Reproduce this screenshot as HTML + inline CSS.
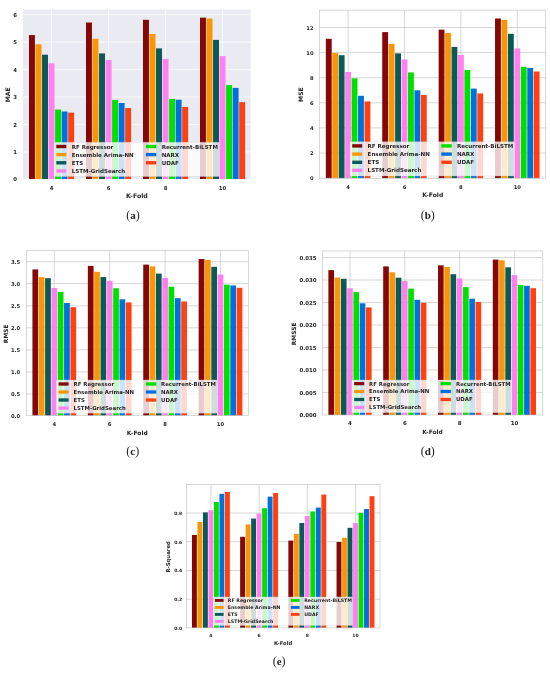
<!DOCTYPE html>
<html lang="en"><head><meta charset="utf-8"><title>Figure</title>
<style>html,body{margin:0;padding:0;background:#fff}svg{display:block;filter:blur(0.35px)}.t{font-family:"DejaVu Sans","Liberation Sans",sans-serif;font-weight:bold;fill:#262626;text-rendering:geometricPrecision}.c{font-family:"Liberation Serif","DejaVu Serif",serif;fill:#222}</style></head><body>
<svg width="550" height="673" viewBox="0 0 550 673">
<rect width="550" height="673" fill="#fff"/>
<g id="chart-a">
<rect x="22.9" y="9.5" width="227.70" height="169.50" fill="#EAEAF2"/>
<line x1="22.9" x2="250.6" y1="151.9" y2="151.9" stroke="#fff" stroke-width="0.7"/>
<line x1="22.9" x2="250.6" y1="124.4" y2="124.4" stroke="#fff" stroke-width="0.7"/>
<line x1="22.9" x2="250.6" y1="97.0" y2="97.0" stroke="#fff" stroke-width="0.7"/>
<line x1="22.9" x2="250.6" y1="69.6" y2="69.6" stroke="#fff" stroke-width="0.7"/>
<line x1="22.9" x2="250.6" y1="42.1" y2="42.1" stroke="#fff" stroke-width="0.7"/>
<line x1="22.9" x2="250.6" y1="14.7" y2="14.7" stroke="#fff" stroke-width="0.7"/>
<line x1="51.55" x2="51.55" y1="9.5" y2="179.0" stroke="#fff" stroke-width="0.7"/>
<line x1="108.55" x2="108.55" y1="9.5" y2="179.0" stroke="#fff" stroke-width="0.7"/>
<line x1="165.55" x2="165.55" y1="9.5" y2="179.0" stroke="#fff" stroke-width="0.7"/>
<line x1="222.55" x2="222.55" y1="9.5" y2="179.0" stroke="#fff" stroke-width="0.7"/>
<rect x="28.99" y="35.10" width="5.93" height="143.90" fill="#860707"/>
<rect x="35.52" y="44.30" width="5.93" height="134.70" fill="#FA9606"/>
<rect x="42.05" y="54.70" width="5.93" height="124.30" fill="#0B5A58"/>
<rect x="48.58" y="63.30" width="5.93" height="115.70" fill="#FF80EE"/>
<rect x="55.11" y="109.50" width="5.93" height="69.50" fill="#00E000"/>
<rect x="61.64" y="111.50" width="5.93" height="67.50" fill="#0070E0"/>
<rect x="68.17" y="112.60" width="5.93" height="66.40" fill="#FF4010"/>
<rect x="85.99" y="22.50" width="5.93" height="156.50" fill="#860707"/>
<rect x="92.52" y="38.80" width="5.93" height="140.20" fill="#FA9606"/>
<rect x="99.05" y="53.40" width="5.93" height="125.60" fill="#0B5A58"/>
<rect x="105.58" y="60.00" width="5.93" height="119.00" fill="#FF80EE"/>
<rect x="112.11" y="99.90" width="5.93" height="79.10" fill="#00E000"/>
<rect x="118.64" y="103.00" width="5.93" height="76.00" fill="#0070E0"/>
<rect x="125.17" y="108.00" width="5.93" height="71.00" fill="#FF4010"/>
<rect x="143.00" y="19.80" width="5.93" height="159.20" fill="#860707"/>
<rect x="149.53" y="34.00" width="5.93" height="145.00" fill="#FA9606"/>
<rect x="156.06" y="48.40" width="5.93" height="130.60" fill="#0B5A58"/>
<rect x="162.59" y="59.10" width="5.93" height="119.90" fill="#FF80EE"/>
<rect x="169.12" y="99.00" width="5.93" height="80.00" fill="#00E000"/>
<rect x="175.65" y="99.70" width="5.93" height="79.30" fill="#0070E0"/>
<rect x="182.18" y="106.90" width="5.93" height="72.10" fill="#FF4010"/>
<rect x="200.00" y="17.65" width="5.93" height="161.35" fill="#860707"/>
<rect x="206.53" y="18.50" width="5.93" height="160.50" fill="#FA9606"/>
<rect x="213.06" y="39.90" width="5.93" height="139.10" fill="#0B5A58"/>
<rect x="219.59" y="56.10" width="5.93" height="122.90" fill="#FF80EE"/>
<rect x="226.12" y="85.10" width="5.93" height="93.90" fill="#00E000"/>
<rect x="232.65" y="87.90" width="5.93" height="91.10" fill="#0070E0"/>
<rect x="239.18" y="102.10" width="5.93" height="76.90" fill="#FF4010"/>
<text class="t" x="17.0" y="181.45" font-size="5.35" text-anchor="end">0</text>
<text class="t" x="17.0" y="154.05" font-size="5.35" text-anchor="end">1</text>
<text class="t" x="17.0" y="126.55" font-size="5.35" text-anchor="end">2</text>
<text class="t" x="17.0" y="99.15" font-size="5.35" text-anchor="end">3</text>
<text class="t" x="17.0" y="71.75" font-size="5.35" text-anchor="end">4</text>
<text class="t" x="17.0" y="44.25" font-size="5.35" text-anchor="end">5</text>
<text class="t" x="17.0" y="16.85" font-size="5.35" text-anchor="end">6</text>
<text class="t" x="51.55" y="189.6" font-size="5.35" text-anchor="middle">4</text>
<text class="t" x="108.55" y="189.6" font-size="5.35" text-anchor="middle">6</text>
<text class="t" x="165.55" y="189.6" font-size="5.35" text-anchor="middle">8</text>
<text class="t" x="222.55" y="189.6" font-size="5.35" text-anchor="middle">10</text>
<text class="t" x="136.9" y="198.1" font-size="6.24" text-anchor="middle">K-Fold</text>
<text class="t" transform="translate(9.63 94.8) rotate(-90)" font-size="6.1" text-anchor="middle">MAE</text>
<rect x="54.1" y="142.3" width="165.10" height="34.20" rx="1" fill="#fff" fill-opacity="0.8" stroke="#ccc" stroke-opacity="0.8" stroke-width="0.4"/>
<rect x="56.3" y="144.80" width="10.00" height="3.4" fill="#860707"/>
<text class="t" x="71.7" y="148.52" font-size="5.54">RF Regressor</text>
<rect x="56.3" y="152.90" width="10.00" height="3.4" fill="#FA9606"/>
<text class="t" x="71.7" y="156.62" font-size="5.54">Ensemble Arima-NN</text>
<rect x="56.3" y="161.10" width="10.00" height="3.4" fill="#0B5A58"/>
<text class="t" x="71.7" y="164.82" font-size="5.54">ETS</text>
<rect x="56.3" y="169.30" width="10.00" height="3.4" fill="#FF80EE"/>
<text class="t" x="71.7" y="173.02" font-size="5.54">LSTM-GridSearch</text>
<rect x="145.9" y="144.80" width="10.40" height="3.4" fill="#00E000"/>
<text class="t" x="161.7" y="148.52" font-size="5.54">Recurrent-BiLSTM</text>
<rect x="145.9" y="152.90" width="10.40" height="3.4" fill="#0070E0"/>
<text class="t" x="161.7" y="156.62" font-size="5.54">NARX</text>
<rect x="145.9" y="161.10" width="10.40" height="3.4" fill="#FF4010"/>
<text class="t" x="161.7" y="164.82" font-size="5.54">UDAF</text>
<text class="c" x="133.1" y="218.6" font-size="12" text-anchor="middle">(<tspan font-weight="bold" font-size="11">a</tspan>)</text>
</g>
<g id="chart-b">
<line x1="319.6" x2="545.5" y1="153.0" y2="153.0" stroke="#C6C6C6" stroke-width="0.7"/>
<line x1="319.6" x2="545.5" y1="127.9" y2="127.9" stroke="#C6C6C6" stroke-width="0.7"/>
<line x1="319.6" x2="545.5" y1="102.8" y2="102.8" stroke="#C6C6C6" stroke-width="0.7"/>
<line x1="319.6" x2="545.5" y1="77.7" y2="77.7" stroke="#C6C6C6" stroke-width="0.7"/>
<line x1="319.6" x2="545.5" y1="52.6" y2="52.6" stroke="#C6C6C6" stroke-width="0.7"/>
<line x1="319.6" x2="545.5" y1="27.5" y2="27.5" stroke="#C6C6C6" stroke-width="0.7"/>
<line x1="348.1" x2="348.1" y1="10.1" y2="178.2" stroke="#C6C6C6" stroke-width="0.7"/>
<line x1="404.5" x2="404.5" y1="10.1" y2="178.2" stroke="#C6C6C6" stroke-width="0.7"/>
<line x1="460.9" x2="460.9" y1="10.1" y2="178.2" stroke="#C6C6C6" stroke-width="0.7"/>
<line x1="517.3" x2="517.3" y1="10.1" y2="178.2" stroke="#C6C6C6" stroke-width="0.7"/>
<rect x="325.84" y="38.80" width="5.85" height="139.40" fill="#860707"/>
<rect x="332.29" y="53.00" width="5.85" height="125.20" fill="#FA9606"/>
<rect x="338.73" y="55.20" width="5.85" height="123.00" fill="#0B5A58"/>
<rect x="345.18" y="72.00" width="5.85" height="106.20" fill="#FF80EE"/>
<rect x="351.62" y="78.30" width="5.85" height="99.90" fill="#00E000"/>
<rect x="358.07" y="95.80" width="5.85" height="82.40" fill="#0070E0"/>
<rect x="364.52" y="101.40" width="5.85" height="76.80" fill="#FF4010"/>
<rect x="382.24" y="32.10" width="5.85" height="146.10" fill="#860707"/>
<rect x="388.69" y="43.80" width="5.85" height="134.40" fill="#FA9606"/>
<rect x="395.13" y="53.40" width="5.85" height="124.80" fill="#0B5A58"/>
<rect x="401.58" y="59.50" width="5.85" height="118.70" fill="#FF80EE"/>
<rect x="408.02" y="72.40" width="5.85" height="105.80" fill="#00E000"/>
<rect x="414.47" y="90.30" width="5.85" height="87.90" fill="#0070E0"/>
<rect x="420.92" y="94.90" width="5.85" height="83.30" fill="#FF4010"/>
<rect x="438.64" y="29.70" width="5.85" height="148.50" fill="#860707"/>
<rect x="445.09" y="32.90" width="5.85" height="145.30" fill="#FA9606"/>
<rect x="451.53" y="46.90" width="5.85" height="131.30" fill="#0B5A58"/>
<rect x="457.98" y="55.00" width="5.85" height="123.20" fill="#FF80EE"/>
<rect x="464.42" y="70.00" width="5.85" height="108.20" fill="#00E000"/>
<rect x="470.87" y="88.60" width="5.85" height="89.60" fill="#0070E0"/>
<rect x="477.31" y="93.40" width="5.85" height="84.80" fill="#FF4010"/>
<rect x="495.04" y="18.50" width="5.85" height="159.70" fill="#860707"/>
<rect x="501.49" y="19.80" width="5.85" height="158.40" fill="#FA9606"/>
<rect x="507.93" y="33.80" width="5.85" height="144.40" fill="#0B5A58"/>
<rect x="514.38" y="48.40" width="5.85" height="129.80" fill="#FF80EE"/>
<rect x="520.82" y="66.80" width="5.85" height="111.40" fill="#00E000"/>
<rect x="527.27" y="68.00" width="5.85" height="110.20" fill="#0070E0"/>
<rect x="533.71" y="71.50" width="5.85" height="106.70" fill="#FF4010"/>
<rect x="319.6" y="10.1" width="225.90" height="168.10" fill="none" stroke="#BEBEBE" stroke-width="0.6"/>
<text class="t" x="313.6" y="180.20" font-size="5.2" text-anchor="end">0</text>
<text class="t" x="313.6" y="155.10" font-size="5.2" text-anchor="end">2</text>
<text class="t" x="313.6" y="130.00" font-size="5.2" text-anchor="end">4</text>
<text class="t" x="313.6" y="104.90" font-size="5.2" text-anchor="end">6</text>
<text class="t" x="313.6" y="79.80" font-size="5.2" text-anchor="end">8</text>
<text class="t" x="313.6" y="54.70" font-size="5.2" text-anchor="end">10</text>
<text class="t" x="313.6" y="29.60" font-size="5.2" text-anchor="end">12</text>
<text class="t" x="348.1" y="188.7" font-size="5.2" text-anchor="middle">4</text>
<text class="t" x="404.5" y="188.7" font-size="5.2" text-anchor="middle">6</text>
<text class="t" x="460.9" y="188.7" font-size="5.2" text-anchor="middle">8</text>
<text class="t" x="517.3" y="188.7" font-size="5.2" text-anchor="middle">10</text>
<text class="t" x="432.7" y="196.7" font-size="6.04" text-anchor="middle">K-Fold</text>
<text class="t" transform="translate(302.72 94.6) rotate(-90)" font-size="6.09" text-anchor="middle">MSE</text>
<rect x="350.0" y="141.7" width="164.50" height="34.30" rx="1" fill="#fff" fill-opacity="0.8" stroke="#ccc" stroke-opacity="0.8" stroke-width="0.4"/>
<rect x="352.2" y="144.20" width="10.00" height="3.4" fill="#860707"/>
<text class="t" x="367.6" y="147.93" font-size="5.55">RF Regressor</text>
<rect x="352.2" y="152.40" width="10.00" height="3.4" fill="#FA9606"/>
<text class="t" x="367.6" y="156.13" font-size="5.55">Ensemble Arima-NN</text>
<rect x="352.2" y="160.60" width="10.00" height="3.4" fill="#0B5A58"/>
<text class="t" x="367.6" y="164.33" font-size="5.55">ETS</text>
<rect x="352.2" y="168.60" width="10.00" height="3.4" fill="#FF80EE"/>
<text class="t" x="367.6" y="172.33" font-size="5.55">LSTM-GridSearch</text>
<rect x="441.3" y="144.20" width="10.50" height="3.4" fill="#00E000"/>
<text class="t" x="456.9" y="147.93" font-size="5.55">Recurrent-BiLSTM</text>
<rect x="441.3" y="152.40" width="10.50" height="3.4" fill="#0070E0"/>
<text class="t" x="456.9" y="156.13" font-size="5.55">NARX</text>
<rect x="441.3" y="160.60" width="10.50" height="3.4" fill="#FF4010"/>
<text class="t" x="456.9" y="164.33" font-size="5.55">UDAF</text>
<text class="c" x="427.8" y="218.5" font-size="12" text-anchor="middle">(<tspan font-weight="bold" font-size="11">b</tspan>)</text>
</g>
<g id="chart-c">
<line x1="26.4" x2="248.5" y1="393.9" y2="393.9" stroke="#C6C6C6" stroke-width="0.7"/>
<line x1="26.4" x2="248.5" y1="371.9" y2="371.9" stroke="#C6C6C6" stroke-width="0.7"/>
<line x1="26.4" x2="248.5" y1="349.9" y2="349.9" stroke="#C6C6C6" stroke-width="0.7"/>
<line x1="26.4" x2="248.5" y1="327.8" y2="327.8" stroke="#C6C6C6" stroke-width="0.7"/>
<line x1="26.4" x2="248.5" y1="305.8" y2="305.8" stroke="#C6C6C6" stroke-width="0.7"/>
<line x1="26.4" x2="248.5" y1="283.6" y2="283.6" stroke="#C6C6C6" stroke-width="0.7"/>
<line x1="26.4" x2="248.5" y1="261.7" y2="261.7" stroke="#C6C6C6" stroke-width="0.7"/>
<line x1="54.3" x2="54.3" y1="250.7" y2="415.6" stroke="#C6C6C6" stroke-width="0.7"/>
<line x1="109.7" x2="109.7" y1="250.7" y2="415.6" stroke="#C6C6C6" stroke-width="0.7"/>
<line x1="165.1" x2="165.1" y1="250.7" y2="415.6" stroke="#C6C6C6" stroke-width="0.7"/>
<line x1="220.5" x2="220.5" y1="250.7" y2="415.6" stroke="#C6C6C6" stroke-width="0.7"/>
<rect x="32.44" y="269.40" width="5.73" height="146.20" fill="#860707"/>
<rect x="38.77" y="277.10" width="5.73" height="138.50" fill="#FA9606"/>
<rect x="45.10" y="278.20" width="5.73" height="137.40" fill="#0B5A58"/>
<rect x="51.43" y="288.00" width="5.73" height="127.60" fill="#FF80EE"/>
<rect x="57.76" y="291.90" width="5.73" height="123.70" fill="#00E000"/>
<rect x="64.09" y="303.00" width="5.73" height="112.60" fill="#0070E0"/>
<rect x="70.42" y="307.20" width="5.73" height="108.40" fill="#FF4010"/>
<rect x="87.84" y="265.90" width="5.73" height="149.70" fill="#860707"/>
<rect x="94.17" y="271.80" width="5.73" height="143.80" fill="#FA9606"/>
<rect x="100.50" y="277.10" width="5.73" height="138.50" fill="#0B5A58"/>
<rect x="106.83" y="280.80" width="5.73" height="134.80" fill="#FF80EE"/>
<rect x="113.17" y="288.20" width="5.73" height="127.40" fill="#00E000"/>
<rect x="119.49" y="299.30" width="5.73" height="116.30" fill="#0070E0"/>
<rect x="125.83" y="302.40" width="5.73" height="113.20" fill="#FF4010"/>
<rect x="143.25" y="264.60" width="5.73" height="151.00" fill="#860707"/>
<rect x="149.58" y="266.40" width="5.73" height="149.20" fill="#FA9606"/>
<rect x="155.91" y="273.60" width="5.73" height="142.00" fill="#0B5A58"/>
<rect x="162.24" y="277.90" width="5.73" height="137.70" fill="#FF80EE"/>
<rect x="168.56" y="286.70" width="5.73" height="128.90" fill="#00E000"/>
<rect x="174.90" y="298.20" width="5.73" height="117.40" fill="#0070E0"/>
<rect x="181.23" y="301.50" width="5.73" height="114.10" fill="#FF4010"/>
<rect x="198.65" y="259.00" width="5.73" height="156.60" fill="#860707"/>
<rect x="204.98" y="259.80" width="5.73" height="155.80" fill="#FA9606"/>
<rect x="211.31" y="266.80" width="5.73" height="148.80" fill="#0B5A58"/>
<rect x="217.64" y="274.50" width="5.73" height="141.10" fill="#FF80EE"/>
<rect x="223.97" y="284.70" width="5.73" height="130.90" fill="#00E000"/>
<rect x="230.30" y="285.40" width="5.73" height="130.20" fill="#0070E0"/>
<rect x="236.62" y="287.80" width="5.73" height="127.80" fill="#FF4010"/>
<rect x="26.4" y="250.7" width="222.10" height="164.90" fill="none" stroke="#BEBEBE" stroke-width="0.6"/>
<text class="t" x="20.2" y="418.02" font-size="5.25" text-anchor="end">0.0</text>
<text class="t" x="20.2" y="396.02" font-size="5.25" text-anchor="end">0.5</text>
<text class="t" x="20.2" y="374.02" font-size="5.25" text-anchor="end">1.0</text>
<text class="t" x="20.2" y="352.02" font-size="5.25" text-anchor="end">1.5</text>
<text class="t" x="20.2" y="329.92" font-size="5.25" text-anchor="end">2.0</text>
<text class="t" x="20.2" y="307.92" font-size="5.25" text-anchor="end">2.5</text>
<text class="t" x="20.2" y="285.72" font-size="5.25" text-anchor="end">3.0</text>
<text class="t" x="20.2" y="263.82" font-size="5.25" text-anchor="end">3.5</text>
<text class="t" x="54.3" y="425.9" font-size="5.25" text-anchor="middle">4</text>
<text class="t" x="109.7" y="425.9" font-size="5.25" text-anchor="middle">6</text>
<text class="t" x="165.1" y="425.9" font-size="5.25" text-anchor="middle">8</text>
<text class="t" x="220.5" y="425.9" font-size="5.25" text-anchor="middle">10</text>
<text class="t" x="137.3" y="434.6" font-size="6.0" text-anchor="middle">K-Fold</text>
<text class="t" transform="translate(7.85 333.8) rotate(-90)" font-size="5.9" text-anchor="middle">RMSE</text>
<rect x="56.3" y="380.0" width="160.90" height="33.20" rx="1" fill="#fff" fill-opacity="0.8" stroke="#ccc" stroke-opacity="0.8" stroke-width="0.4"/>
<rect x="58.6" y="382.35" width="10.00" height="3.3" fill="#860707"/>
<text class="t" x="73.5" y="385.98" font-size="5.42">RF Regressor</text>
<rect x="58.6" y="390.35" width="10.00" height="3.3" fill="#FA9606"/>
<text class="t" x="73.5" y="393.98" font-size="5.42">Ensemble Arima-NN</text>
<rect x="58.6" y="398.35" width="10.00" height="3.3" fill="#0B5A58"/>
<text class="t" x="73.5" y="401.98" font-size="5.42">ETS</text>
<rect x="58.6" y="406.45" width="10.00" height="3.3" fill="#FF80EE"/>
<text class="t" x="73.5" y="410.08" font-size="5.42">LSTM-GridSearch</text>
<rect x="145.9" y="382.35" width="10.40" height="3.3" fill="#00E000"/>
<text class="t" x="161.0" y="385.98" font-size="5.42">Recurrent-BiLSTM</text>
<rect x="145.9" y="390.35" width="10.40" height="3.3" fill="#0070E0"/>
<text class="t" x="161.0" y="393.98" font-size="5.42">NARX</text>
<rect x="145.9" y="398.35" width="10.40" height="3.3" fill="#FF4010"/>
<text class="t" x="161.0" y="401.98" font-size="5.42">UDAF</text>
<text class="c" x="132.7" y="455.0" font-size="12" text-anchor="middle">(<tspan font-weight="bold" font-size="11">c</tspan>)</text>
</g>
<g id="chart-d">
<line x1="322.5" x2="542.8" y1="392.5" y2="392.5" stroke="#C6C6C6" stroke-width="0.7"/>
<line x1="322.5" x2="542.8" y1="370.0" y2="370.0" stroke="#C6C6C6" stroke-width="0.7"/>
<line x1="322.5" x2="542.8" y1="347.5" y2="347.5" stroke="#C6C6C6" stroke-width="0.7"/>
<line x1="322.5" x2="542.8" y1="325.0" y2="325.0" stroke="#C6C6C6" stroke-width="0.7"/>
<line x1="322.5" x2="542.8" y1="302.5" y2="302.5" stroke="#C6C6C6" stroke-width="0.7"/>
<line x1="322.5" x2="542.8" y1="280.0" y2="280.0" stroke="#C6C6C6" stroke-width="0.7"/>
<line x1="322.5" x2="542.8" y1="257.5" y2="257.5" stroke="#C6C6C6" stroke-width="0.7"/>
<line x1="350.0" x2="350.0" y1="251.0" y2="415.0" stroke="#C6C6C6" stroke-width="0.7"/>
<line x1="404.8" x2="404.8" y1="251.0" y2="415.0" stroke="#C6C6C6" stroke-width="0.7"/>
<line x1="459.6" x2="459.6" y1="251.0" y2="415.0" stroke="#C6C6C6" stroke-width="0.7"/>
<line x1="514.4" x2="514.4" y1="251.0" y2="415.0" stroke="#C6C6C6" stroke-width="0.7"/>
<rect x="328.39" y="270.10" width="5.66" height="144.90" fill="#860707"/>
<rect x="334.65" y="277.50" width="5.66" height="137.50" fill="#FA9606"/>
<rect x="340.91" y="278.80" width="5.66" height="136.20" fill="#0B5A58"/>
<rect x="347.17" y="288.20" width="5.66" height="126.80" fill="#FF80EE"/>
<rect x="353.43" y="292.10" width="5.66" height="122.90" fill="#00E000"/>
<rect x="359.69" y="303.30" width="5.66" height="111.70" fill="#0070E0"/>
<rect x="365.95" y="307.40" width="5.66" height="107.60" fill="#FF4010"/>
<rect x="383.19" y="266.40" width="5.66" height="148.60" fill="#860707"/>
<rect x="389.45" y="272.30" width="5.66" height="142.70" fill="#FA9606"/>
<rect x="395.71" y="277.70" width="5.66" height="137.30" fill="#0B5A58"/>
<rect x="401.97" y="281.00" width="5.66" height="134.00" fill="#FF80EE"/>
<rect x="408.23" y="288.60" width="5.66" height="126.40" fill="#00E000"/>
<rect x="414.49" y="299.80" width="5.66" height="115.20" fill="#0070E0"/>
<rect x="420.75" y="302.80" width="5.66" height="112.20" fill="#FF4010"/>
<rect x="437.99" y="265.30" width="5.66" height="149.70" fill="#860707"/>
<rect x="444.25" y="267.00" width="5.66" height="148.00" fill="#FA9606"/>
<rect x="450.51" y="274.20" width="5.66" height="140.80" fill="#0B5A58"/>
<rect x="456.77" y="278.40" width="5.66" height="136.60" fill="#FF80EE"/>
<rect x="463.03" y="287.10" width="5.66" height="127.90" fill="#00E000"/>
<rect x="469.29" y="298.70" width="5.66" height="116.30" fill="#0070E0"/>
<rect x="475.55" y="302.00" width="5.66" height="113.00" fill="#FF4010"/>
<rect x="492.79" y="259.60" width="5.66" height="155.40" fill="#860707"/>
<rect x="499.05" y="260.30" width="5.66" height="154.70" fill="#FA9606"/>
<rect x="505.31" y="267.30" width="5.66" height="147.70" fill="#0B5A58"/>
<rect x="511.57" y="275.10" width="5.66" height="139.90" fill="#FF80EE"/>
<rect x="517.83" y="285.10" width="5.66" height="129.90" fill="#00E000"/>
<rect x="524.09" y="285.80" width="5.66" height="129.20" fill="#0070E0"/>
<rect x="530.35" y="288.20" width="5.66" height="126.80" fill="#FF4010"/>
<rect x="322.5" y="251.0" width="220.30" height="164.00" fill="none" stroke="#BEBEBE" stroke-width="0.6"/>
<text class="t" x="316.6" y="417.48" font-size="5.43" text-anchor="end">0.000</text>
<text class="t" x="316.6" y="394.98" font-size="5.43" text-anchor="end">0.005</text>
<text class="t" x="316.6" y="372.48" font-size="5.43" text-anchor="end">0.010</text>
<text class="t" x="316.6" y="349.98" font-size="5.43" text-anchor="end">0.015</text>
<text class="t" x="316.6" y="327.48" font-size="5.43" text-anchor="end">0.020</text>
<text class="t" x="316.6" y="304.98" font-size="5.43" text-anchor="end">0.025</text>
<text class="t" x="316.6" y="282.48" font-size="5.43" text-anchor="end">0.030</text>
<text class="t" x="316.6" y="259.98" font-size="5.43" text-anchor="end">0.035</text>
<text class="t" x="350.0" y="425.2" font-size="5.43" text-anchor="middle">4</text>
<text class="t" x="404.8" y="425.2" font-size="5.43" text-anchor="middle">6</text>
<text class="t" x="459.6" y="425.2" font-size="5.43" text-anchor="middle">8</text>
<text class="t" x="514.4" y="425.2" font-size="5.43" text-anchor="middle">10</text>
<text class="t" x="432.5" y="433.6" font-size="5.87" text-anchor="middle">K-Fold</text>
<text class="t" transform="translate(296.35 333.9) rotate(-90)" font-size="5.9" text-anchor="middle">RMSSE</text>
<rect x="351.8" y="380.0" width="160.00" height="32.70" rx="1" fill="#fff" fill-opacity="0.8" stroke="#ccc" stroke-opacity="0.8" stroke-width="0.4"/>
<rect x="354.2" y="381.95" width="10.00" height="3.3" fill="#860707"/>
<text class="t" x="369.1" y="385.56" font-size="5.38">RF Regressor</text>
<rect x="354.2" y="389.85" width="10.00" height="3.3" fill="#FA9606"/>
<text class="t" x="369.1" y="393.46" font-size="5.38">Ensemble Arima-NN</text>
<rect x="354.2" y="397.85" width="10.00" height="3.3" fill="#0B5A58"/>
<text class="t" x="369.1" y="401.46" font-size="5.38">ETS</text>
<rect x="354.2" y="405.85" width="10.00" height="3.3" fill="#FF80EE"/>
<text class="t" x="369.1" y="409.46" font-size="5.38">LSTM-GridSearch</text>
<rect x="440.5" y="381.95" width="10.40" height="3.3" fill="#00E000"/>
<text class="t" x="456.0" y="385.56" font-size="5.38">Recurrent-BiLSTM</text>
<rect x="440.5" y="389.85" width="10.40" height="3.3" fill="#0070E0"/>
<text class="t" x="456.0" y="393.46" font-size="5.38">NARX</text>
<rect x="440.5" y="397.85" width="10.40" height="3.3" fill="#FF4010"/>
<text class="t" x="456.0" y="401.46" font-size="5.38">UDAF</text>
<text class="c" x="427.8" y="454.6" font-size="12" text-anchor="middle">(<tspan font-weight="bold" font-size="11">d</tspan>)</text>
</g>
<g id="chart-e">
<line x1="186.4" x2="380.0" y1="599.2" y2="599.2" stroke="#C6C6C6" stroke-width="0.7"/>
<line x1="186.4" x2="380.0" y1="570.5" y2="570.5" stroke="#C6C6C6" stroke-width="0.7"/>
<line x1="186.4" x2="380.0" y1="541.7" y2="541.7" stroke="#C6C6C6" stroke-width="0.7"/>
<line x1="186.4" x2="380.0" y1="513.0" y2="513.0" stroke="#C6C6C6" stroke-width="0.7"/>
<line x1="210.9" x2="210.9" y1="484.4" y2="627.9" stroke="#C6C6C6" stroke-width="0.7"/>
<line x1="259.1" x2="259.1" y1="484.4" y2="627.9" stroke="#C6C6C6" stroke-width="0.7"/>
<line x1="307.3" x2="307.3" y1="484.4" y2="627.9" stroke="#C6C6C6" stroke-width="0.7"/>
<line x1="355.5" x2="355.5" y1="484.4" y2="627.9" stroke="#C6C6C6" stroke-width="0.7"/>
<rect x="191.95" y="535.00" width="4.90" height="92.90" fill="#860707"/>
<rect x="197.45" y="522.00" width="4.90" height="105.90" fill="#FA9606"/>
<rect x="202.95" y="512.40" width="4.90" height="115.50" fill="#0B5A58"/>
<rect x="208.45" y="510.20" width="4.90" height="117.70" fill="#FF80EE"/>
<rect x="213.95" y="502.00" width="4.90" height="125.90" fill="#00E000"/>
<rect x="219.45" y="493.80" width="4.90" height="134.10" fill="#0070E0"/>
<rect x="224.95" y="492.00" width="4.90" height="135.90" fill="#FF4010"/>
<rect x="240.15" y="536.80" width="4.90" height="91.10" fill="#860707"/>
<rect x="245.65" y="524.40" width="4.90" height="103.50" fill="#FA9606"/>
<rect x="251.15" y="518.60" width="4.90" height="109.30" fill="#0B5A58"/>
<rect x="256.65" y="513.60" width="4.90" height="114.30" fill="#FF80EE"/>
<rect x="262.15" y="508.20" width="4.90" height="119.70" fill="#00E000"/>
<rect x="267.65" y="496.60" width="4.90" height="131.30" fill="#0070E0"/>
<rect x="273.15" y="493.00" width="4.90" height="134.90" fill="#FF4010"/>
<rect x="288.35" y="540.60" width="4.90" height="87.30" fill="#860707"/>
<rect x="293.85" y="533.80" width="4.90" height="94.10" fill="#FA9606"/>
<rect x="299.35" y="523.00" width="4.90" height="104.90" fill="#0B5A58"/>
<rect x="304.85" y="516.00" width="4.90" height="111.90" fill="#FF80EE"/>
<rect x="310.35" y="511.40" width="4.90" height="116.50" fill="#00E000"/>
<rect x="315.85" y="507.60" width="4.90" height="120.30" fill="#0070E0"/>
<rect x="321.35" y="494.60" width="4.90" height="133.30" fill="#FF4010"/>
<rect x="336.55" y="542.00" width="4.90" height="85.90" fill="#860707"/>
<rect x="342.05" y="537.80" width="4.90" height="90.10" fill="#FA9606"/>
<rect x="347.55" y="527.80" width="4.90" height="100.10" fill="#0B5A58"/>
<rect x="353.05" y="523.00" width="4.90" height="104.90" fill="#FF80EE"/>
<rect x="358.55" y="512.80" width="4.90" height="115.10" fill="#00E000"/>
<rect x="364.05" y="509.00" width="4.90" height="118.90" fill="#0070E0"/>
<rect x="369.55" y="496.20" width="4.90" height="131.70" fill="#FF4010"/>
<rect x="186.4" y="484.4" width="193.60" height="143.50" fill="none" stroke="#BEBEBE" stroke-width="0.6"/>
<text class="t" x="182.2" y="629.74" font-size="4.5" text-anchor="end">0.0</text>
<text class="t" x="182.2" y="601.04" font-size="4.5" text-anchor="end">0.2</text>
<text class="t" x="182.2" y="572.34" font-size="4.5" text-anchor="end">0.4</text>
<text class="t" x="182.2" y="543.54" font-size="4.5" text-anchor="end">0.6</text>
<text class="t" x="182.2" y="514.84" font-size="4.5" text-anchor="end">0.8</text>
<text class="t" x="210.9" y="636.8" font-size="4.5" text-anchor="middle">4</text>
<text class="t" x="259.1" y="636.8" font-size="4.5" text-anchor="middle">6</text>
<text class="t" x="307.3" y="636.8" font-size="4.5" text-anchor="middle">8</text>
<text class="t" x="355.5" y="636.8" font-size="4.5" text-anchor="middle">10</text>
<text class="t" x="283.1" y="644.5" font-size="5.2" text-anchor="middle">K-Fold</text>
<text class="t" transform="translate(170.35 556.9) rotate(-90)" font-size="5.34" text-anchor="middle">R-Squared</text>
<rect x="213.3" y="596.9" width="139.40" height="28.60" rx="1" fill="#fff" fill-opacity="0.8" stroke="#ccc" stroke-opacity="0.8" stroke-width="0.4"/>
<rect x="214.9" y="598.95" width="8.70" height="2.9" fill="#860707"/>
<text class="t" x="227.8" y="602.12" font-size="4.72">RF Regressor</text>
<rect x="214.9" y="605.95" width="8.70" height="2.9" fill="#FA9606"/>
<text class="t" x="227.8" y="609.12" font-size="4.72">Ensemble Arima-NN</text>
<rect x="214.9" y="612.95" width="8.70" height="2.9" fill="#0B5A58"/>
<text class="t" x="227.8" y="616.12" font-size="4.72">ETS</text>
<rect x="214.9" y="619.85" width="8.70" height="2.9" fill="#FF80EE"/>
<text class="t" x="227.8" y="623.02" font-size="4.72">LSTM-GridSearch</text>
<rect x="290.9" y="598.95" width="8.70" height="2.9" fill="#00E000"/>
<text class="t" x="304.2" y="602.12" font-size="4.72">Recurrent-BiLSTM</text>
<rect x="290.9" y="605.95" width="8.70" height="2.9" fill="#0070E0"/>
<text class="t" x="304.2" y="609.12" font-size="4.72">NARX</text>
<rect x="290.9" y="612.95" width="8.70" height="2.9" fill="#FF4010"/>
<text class="t" x="304.2" y="616.12" font-size="4.72">UDAF</text>
<text class="c" x="279.1" y="664.6" font-size="12" text-anchor="middle">(<tspan font-weight="bold" font-size="11">e</tspan>)</text>
</g>
</svg></body></html>
